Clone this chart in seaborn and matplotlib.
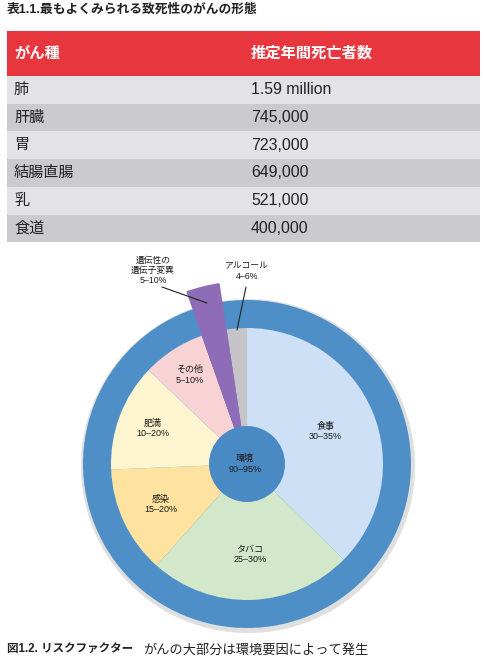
import numpy as np
import matplotlib
matplotlib.use("Agg")
import matplotlib.pyplot as plt
from matplotlib.patches import Rectangle, Circle
import seaborn as sns

sns.set_theme(style="white")
plt.rcParams['font.family'] = ['Liberation Sans', 'Noto Sans CJK JP', 'DejaVu Sans']

# ---- table data ----
table_title = "表1.1.最もよくみられる致死性のがんの形態"
col_headers = ["がん種", "推定年間死亡者数"]
cancer_types = ["肺", "肝臓", "胃", "結腸直腸", "乳", "食道"]
annual_deaths = ["1.59 million", "745,000", "723,000", "649,000", "521,000", "400,000"]

# ---- pie data (angular shares) ----
factor_names = ["食事", "タバコ", "感染", "肥満", "その他", "遺伝性の\n遺伝子変異", "アルコール"]
factor_ranges = ["30–35%", "25–30%", "15–20%", "10–20%", "5–10%", "5–10%", "4–6%"]
factor_shares = [37.5, 24.2, 12.8, 12.8, 7.5, 3.0, 2.4]
factor_colors = ["#cde0f5", "#d3e8cb", "#fde2a0", "#fdf5cf", "#f8d3d6", "#8f6cb8", "#c5c5c7"]
center_name = "環境"
center_range = "90–95%"
caption_bold = "図1.2. リスクファクター"
caption_text = "がんの大部分は環境要因によって発生"

W, H = 485, 661
fig = plt.figure(figsize=(W / 100, H / 100), dpi=100)
ax = fig.add_axes([0, 0, 1, 1])

cx, cy = 247, 464
r_ring = 164
r_pie = 136
r_hered = 183
r_center = 38

# ring + shadow
ax.add_patch(Circle((cx + 1, cy + 2), r_ring + 3, color='#d2d2d2', lw=0, zorder=1, alpha=0.7))
ax.add_patch(Circle((cx, cy), r_ring, color='#4f8fc8', lw=0, zorder=2))

# y axis is inverted (pixel coordinates), so clockwise on screen = counterclockwise in data
wedges, _ = ax.pie(factor_shares, colors=factor_colors, startangle=-90, counterclock=True,
                   center=(cx, cy), radius=r_pie, frame=True,
                   wedgeprops=dict(lw=0, zorder=3))
hi = 5
ext_colors = ['none'] * len(factor_shares)
ext_colors[hi] = factor_colors[hi]
ax.pie(factor_shares, colors=ext_colors, startangle=-90, counterclock=True,
       center=(cx, cy), radius=r_hered, frame=True,
       wedgeprops=dict(lw=0, zorder=4))

ax.set_xlim(0, W)
ax.set_ylim(H, 0)
ax.set_aspect('equal')
ax.axis('off')

# title
ax.text(7, 10, table_title, fontsize=9.2, fontweight='bold', va='center', ha='left', color='#222222')

# table
tx0, tx1 = 7, 480
hdr_top, hdr_bot = 31, 76
row_h = 27.7
col_x = [14, 251]
ax.add_patch(Rectangle((tx0, hdr_top), tx1 - tx0, hdr_bot - hdr_top, color='#e8363f', lw=0))
for x, h in zip(col_x, col_headers):
    ax.text(x, (hdr_top + hdr_bot) / 2, h, fontsize=11, fontweight='bold', color='white',
            va='center', ha='left')
for i, (ct, dv) in enumerate(zip(cancer_types, annual_deaths)):
    y0 = hdr_bot + i * row_h
    ax.add_patch(Rectangle((tx0, y0), tx1 - tx0, row_h,
                           color='#e3e3e5' if i % 2 == 0 else '#cbcbce', lw=0))
    ax.text(col_x[0], y0 + row_h / 2, ct, fontsize=10.9, va='center', ha='left', color='#222222')
    ax.text(col_x[1], y0 + row_h / 2, dv, fontsize=11.4, va='center', ha='left', color='#222222')

ax.add_patch(Circle((cx, cy), r_center, color='#4a8ac4', lw=0, zorder=5))
ax.text(cx - 2, cy, center_name + "\n" + center_range, fontsize=6.5, ha='center', va='center',
        color='#1a1a1a', zorder=6, linespacing=1.2)

# labels inside slices
shares = np.array(factor_shares)
cum = np.cumsum(shares) - shares / 2
mid_angles = cum / shares.sum() * 360.0  # clockwise from top
label_r = [85, 90, 95, 101, 106]
for k in range(5):
    a = np.deg2rad(mid_angles[k])
    lx = cx + label_r[k] * np.sin(a)
    ly = cy - label_r[k] * np.cos(a)
    ax.text(lx, ly, factor_names[k] + "\n" + factor_ranges[k], fontsize=6.5, ha='center',
            va='center', color='#1a1a1a', zorder=6, linespacing=1.2)

# callouts outside
ax.text(153, 270, factor_names[5] + "\n" + factor_ranges[5], fontsize=6.3, ha='center',
        va='center', color='#1a1a1a', zorder=6, linespacing=1.15)
ax.plot([162, 207], [287, 303], color='#222222', lw=0.8, zorder=6)
ax.text(247, 271, factor_names[6] + "\n" + factor_ranges[6], fontsize=6.3, ha='center',
        va='center', color='#1a1a1a', zorder=6, linespacing=1.15)
ax.plot([246, 237], [287, 330], color='#222222', lw=0.8, zorder=6)

# caption
ax.text(7, 650, caption_bold, fontsize=8.3, fontweight='bold', va='center', ha='left', color='#222222')
ax.text(143, 650, caption_text, fontsize=9.5, va='center', ha='left', color='#222222')

fig.savefig("out.png", dpi=100)
